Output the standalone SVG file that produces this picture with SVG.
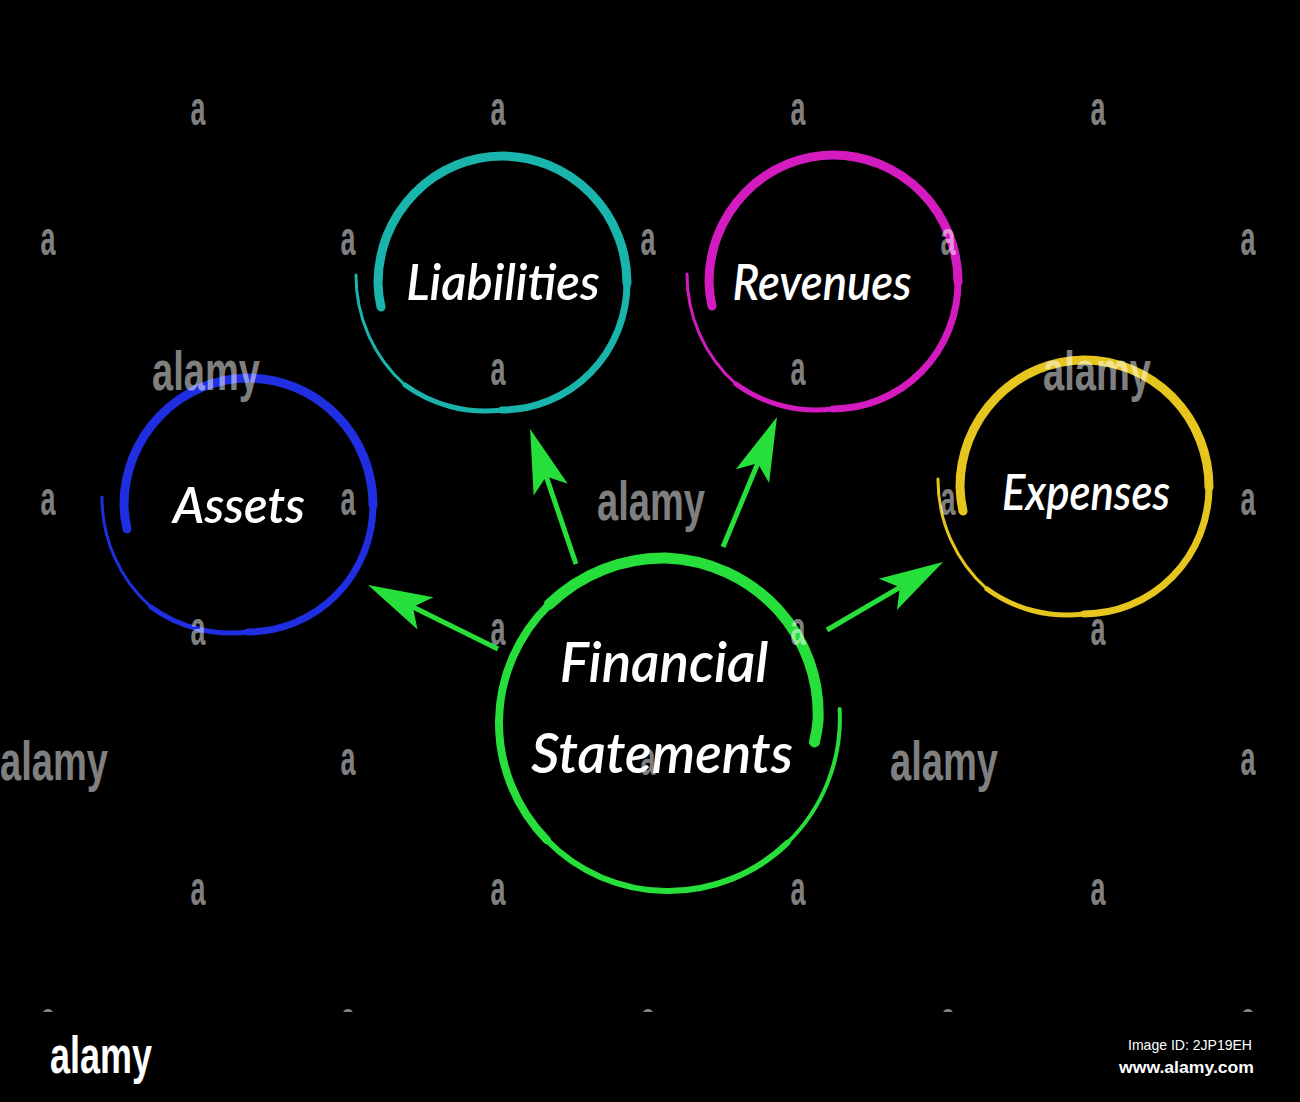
<svg xmlns="http://www.w3.org/2000/svg" xmlns:xlink="http://www.w3.org/1999/xlink" width="1300" height="1102" viewBox="0 0 1300 1102">
<style>
.lbl{font-family:Lato,"Open Sans","Liberation Sans",sans-serif;font-style:italic;font-weight:600;fill:#fff;text-anchor:middle}
.s{font-size:49px}
.big{font-size:55px}
.ring path,.fin path{fill:none;stroke-linecap:round}
.ring path{stroke:currentColor}
.fin path{stroke:#27df3a}
.arrow{stroke:#27df3a;stroke-width:5;fill:none;marker-end:url(#ah)}
.wm{font-family:"Liberation Sans",Arial,sans-serif;font-weight:bold;fill:#fff;fill-opacity:.52;text-anchor:middle}
.wa{font-size:48px}
.wl{font-size:55px}
.foot{font-family:"Liberation Sans",Arial,sans-serif;font-weight:bold;fill:#fff}
.footn{font-family:"Liberation Sans",Arial,sans-serif;font-weight:normal;fill:#fff}
</style>
<defs>
<marker id="ah" viewBox="-66 -20 68 40" markerWidth="68" markerHeight="40" refX="-50" refY="0" orient="auto" markerUnits="userSpaceOnUse">
<path d="M0,0 L-64,-18 L-50,0 L-64,18 Z" fill="#27df3a"/>
</marker>
<g id="ring" class="ring">
<path d="M-146,-8 A146,146 0 0 0 -97,102" stroke-width="3"/>
<path d="M-97,102 A136,136 0 0 0 0,127" stroke-width="5"/>
<path d="M0,127 A125,127 0 0 0 125,0" stroke-width="7"/>
<path d="M125,0 A125,127 0 0 0 0,-127 A125,127 0 0 0 -124,0 A124,124 0 0 0 -121,24" stroke-width="9"/>
</g>
<clipPath id="clipTop"><rect x="0" y="0" width="1300" height="1012"/></clipPath>
</defs>
<rect width="1300" height="1102" fill="#000"/>

<g id="connectors">
<line class="arrow" x1="498" y1="649" x2="412.9" y2="607.1"/>
<line class="arrow" x1="576" y1="564" x2="546.2" y2="476.4"/>
<line class="arrow" x1="723" y1="547" x2="757.8" y2="463.2"/>
<line class="arrow" x1="827" y1="630" x2="899.9" y2="587.3"/>
</g>

<g id="node-assets">
<use xlink:href="#ring" href="#ring" transform="translate(248,505)" style="color:#1f2ee0"/>
<text class="lbl s" x="239" y="523">Assets</text>
</g>
<g id="node-liabilities">
<use xlink:href="#ring" href="#ring" transform="translate(502,283)" style="color:#19b5ad"/>
<text class="lbl s" x="503" y="300">Liabilities</text>
</g>
<g id="node-revenues">
<use xlink:href="#ring" href="#ring" transform="translate(833,282)" style="color:#d41bbf"/>
<text class="lbl s" x="822" y="300" textLength="179" lengthAdjust="spacingAndGlyphs">Revenues</text>
</g>
<g id="node-expenses">
<use xlink:href="#ring" href="#ring" transform="translate(1084,487)" style="color:#e6c51f"/>
<text class="lbl s" x="1086" y="510" textLength="168" lengthAdjust="spacingAndGlyphs">Expenses</text>
</g>
<g id="node-financial-statements" class="fin">
<path d="M839.6,708.9 A173,173 0 0 1 787.6,842.6" stroke-width="4"/>
<path d="M787.6,842.6 A171,171 0 0 1 666,891 A169,169 0 0 1 546.9,840.1" stroke-width="6"/>
<path d="M546.9,840.1 A168,168 0 0 1 499,721 A166,166 0 0 1 549.3,604.3" stroke-width="8"/>
<path d="M549.3,604.3 A164,164 0 0 1 666,558 A160,160 0 0 1 777.7,609.3 A155,155 0 0 1 818,721 A151,151 0 0 1 814.5,741.9" stroke-width="11"/>
<text class="lbl big" x="664" y="682">Financial</text>
<text class="lbl big" x="662" y="773">Statements</text>
</g>

<g id="watermarks">
<g clip-path="url(#clipTop)">
<text class="wm wa" x="198" y="125" textLength="15" lengthAdjust="spacingAndGlyphs">a</text>
<text class="wm wa" x="498" y="125" textLength="15" lengthAdjust="spacingAndGlyphs">a</text>
<text class="wm wa" x="798" y="125" textLength="15" lengthAdjust="spacingAndGlyphs">a</text>
<text class="wm wa" x="1098" y="125" textLength="15" lengthAdjust="spacingAndGlyphs">a</text>
<text class="wm wa" x="48" y="255" textLength="15" lengthAdjust="spacingAndGlyphs">a</text>
<text class="wm wa" x="348" y="255" textLength="15" lengthAdjust="spacingAndGlyphs">a</text>
<text class="wm wa" x="648" y="255" textLength="15" lengthAdjust="spacingAndGlyphs">a</text>
<text class="wm wa" x="948" y="255" textLength="15" lengthAdjust="spacingAndGlyphs">a</text>
<text class="wm wa" x="1248" y="255" textLength="15" lengthAdjust="spacingAndGlyphs">a</text>
<text class="wm wa" x="498" y="385" textLength="15" lengthAdjust="spacingAndGlyphs">a</text>
<text class="wm wa" x="798" y="385" textLength="15" lengthAdjust="spacingAndGlyphs">a</text>
<text class="wm wl" x="206" y="390" textLength="108" lengthAdjust="spacingAndGlyphs">alamy</text>
<text class="wm wl" x="1097" y="390" textLength="108" lengthAdjust="spacingAndGlyphs">alamy</text>
<text class="wm wa" x="48" y="515" textLength="15" lengthAdjust="spacingAndGlyphs">a</text>
<text class="wm wa" x="348" y="515" textLength="15" lengthAdjust="spacingAndGlyphs">a</text>
<text class="wm wa" x="948" y="515" textLength="15" lengthAdjust="spacingAndGlyphs">a</text>
<text class="wm wa" x="1248" y="515" textLength="15" lengthAdjust="spacingAndGlyphs">a</text>
<text class="wm wl" x="651" y="520" textLength="108" lengthAdjust="spacingAndGlyphs">alamy</text>
<text class="wm wa" x="198" y="645" textLength="15" lengthAdjust="spacingAndGlyphs">a</text>
<text class="wm wa" x="498" y="645" textLength="15" lengthAdjust="spacingAndGlyphs">a</text>
<text class="wm wa" x="798" y="645" textLength="15" lengthAdjust="spacingAndGlyphs">a</text>
<text class="wm wa" x="1098" y="645" textLength="15" lengthAdjust="spacingAndGlyphs">a</text>
<text class="wm wa" x="348" y="775" textLength="15" lengthAdjust="spacingAndGlyphs">a</text>
<text class="wm wa" x="648" y="775" textLength="15" lengthAdjust="spacingAndGlyphs">a</text>
<text class="wm wa" x="1248" y="775" textLength="15" lengthAdjust="spacingAndGlyphs">a</text>
<text class="wm wl" x="54" y="780" textLength="108" lengthAdjust="spacingAndGlyphs">alamy</text>
<text class="wm wl" x="944" y="780" textLength="108" lengthAdjust="spacingAndGlyphs">alamy</text>
<text class="wm wa" x="198" y="905" textLength="15" lengthAdjust="spacingAndGlyphs">a</text>
<text class="wm wa" x="498" y="905" textLength="15" lengthAdjust="spacingAndGlyphs">a</text>
<text class="wm wa" x="798" y="905" textLength="15" lengthAdjust="spacingAndGlyphs">a</text>
<text class="wm wa" x="1098" y="905" textLength="15" lengthAdjust="spacingAndGlyphs">a</text>
<text class="wm wa" x="48" y="1035" textLength="15" lengthAdjust="spacingAndGlyphs">a</text>
<text class="wm wa" x="348" y="1035" textLength="15" lengthAdjust="spacingAndGlyphs">a</text>
<text class="wm wa" x="648" y="1035" textLength="15" lengthAdjust="spacingAndGlyphs">a</text>
<text class="wm wa" x="948" y="1035" textLength="15" lengthAdjust="spacingAndGlyphs">a</text>
<text class="wm wa" x="1248" y="1035" textLength="15" lengthAdjust="spacingAndGlyphs">a</text>
</g>
</g>

<g id="footer">
<text class="foot" x="50" y="1073" font-size="52" textLength="102" lengthAdjust="spacingAndGlyphs">alamy</text>
<text class="footn" x="1252" y="1050" font-size="15" text-anchor="end" textLength="124" lengthAdjust="spacingAndGlyphs">Image ID: 2JP19EH</text>
<text class="foot" x="1254" y="1073" font-size="17" text-anchor="end" textLength="135" lengthAdjust="spacingAndGlyphs">www.alamy.com</text>
</g>
</svg>
